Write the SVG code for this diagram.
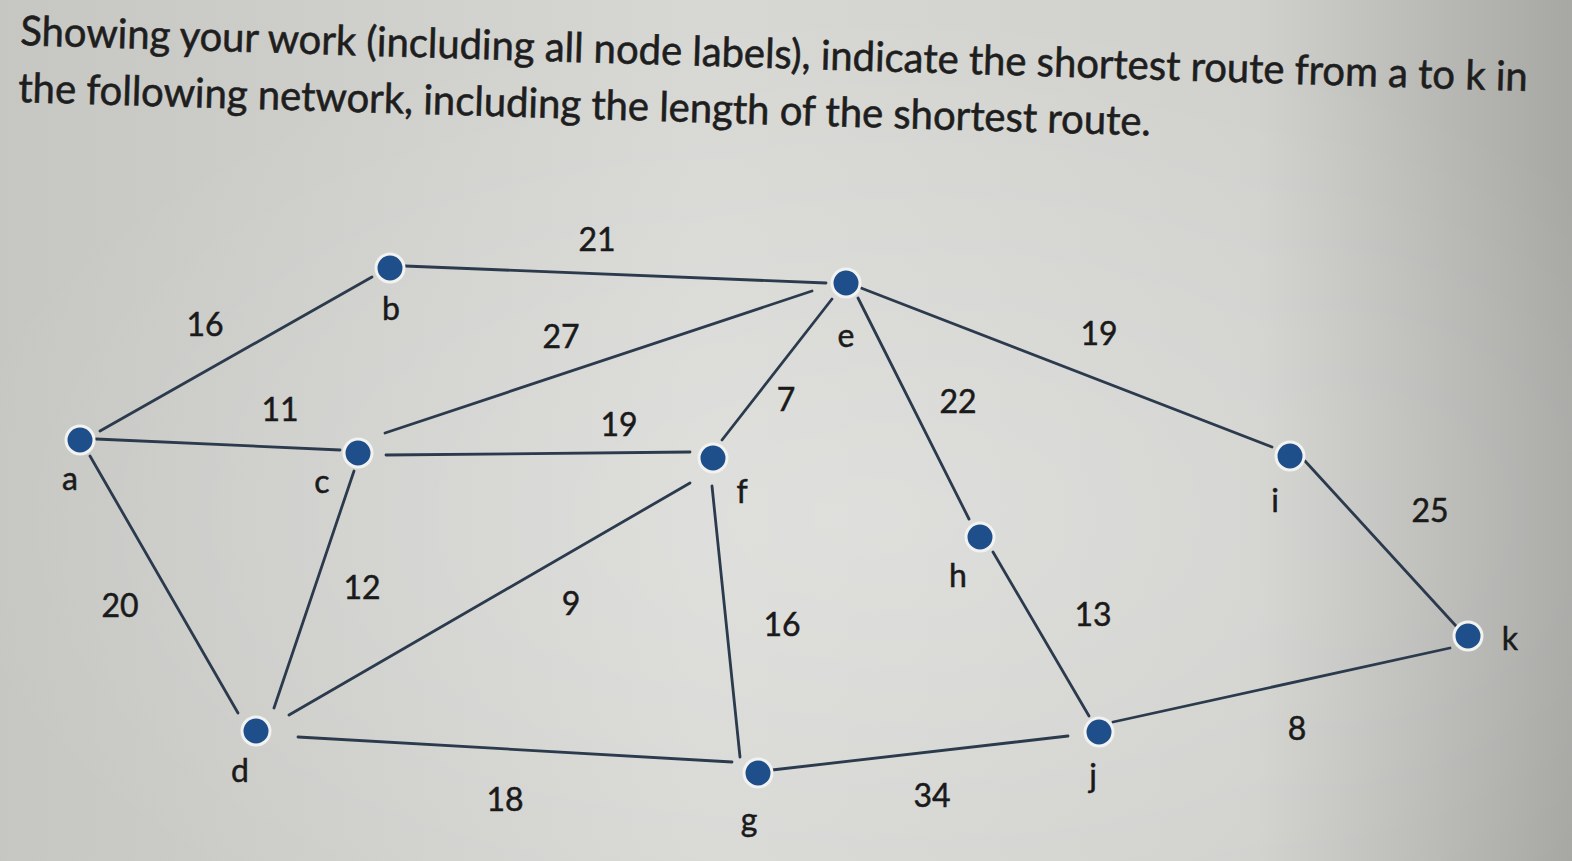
<svg xmlns="http://www.w3.org/2000/svg" width="1572" height="861" viewBox="0 0 1572 861">
<defs>
<linearGradient id="bg" x1="0" y1="0" x2="1" y2="0">
<stop offset="0" stop-color="#c6c6c3"/>
<stop offset="0.45" stop-color="#d7d7d4"/>
<stop offset="0.8" stop-color="#d0d0cd"/>
<stop offset="1" stop-color="#a7a7a4"/>
</linearGradient>
<radialGradient id="glow" cx="0.55" cy="0.6" r="0.6">
<stop offset="0" stop-color="#ffffff" stop-opacity="0.22"/>
<stop offset="1" stop-color="#ffffff" stop-opacity="0"/>
</radialGradient>
<style>
.title{font-family:Lato,"Liberation Sans",sans-serif;font-size:41px;fill:#1e1e1e;stroke:#1e1e1e;stroke-width:0.6}
.lbl{font-family:Lato,"Liberation Sans",sans-serif;font-size:32px;fill:#1a1a1a;stroke:#1a1a1a;stroke-width:0.5;text-anchor:middle}
.edge{stroke:#2b3a4c;stroke-width:2.8;fill:none;stroke-linecap:round}
.node{fill:#1f4f8a;stroke:#f2f2f0;stroke-width:3}
</style>
</defs>
<rect width="1572" height="861" fill="url(#bg)"/>
<rect width="1572" height="861" fill="url(#glow)"/>
<text class="title" x="20" y="45" textLength="1508" lengthAdjust="spacingAndGlyphs" transform="rotate(1.75 20 45)">Showing your work (including all node labels), indicate the shortest route from a to k in</text>
<text class="title" x="18" y="102" textLength="1133" lengthAdjust="spacingAndGlyphs" transform="rotate(1.7 18 102)">the following network, including the length of the shortest route.</text>
<g id="connectors">
<line class="edge" x1="100" y1="431" x2="372" y2="277"/>
<line class="edge" x1="96" y1="439" x2="340" y2="450"/>
<line class="edge" x1="90" y1="456" x2="238" y2="713"/>
<line class="edge" x1="405" y1="266" x2="826" y2="283"/>
<line class="edge" x1="385" y1="433" x2="812" y2="291"/>
<line class="edge" x1="386" y1="455" x2="690" y2="452"/>
<line class="edge" x1="354" y1="471" x2="274" y2="708"/>
<line class="edge" x1="289" y1="715" x2="690" y2="483"/>
<line class="edge" x1="298" y1="737" x2="732" y2="762"/>
<line class="edge" x1="722" y1="440" x2="832" y2="299"/>
<line class="edge" x1="712" y1="486" x2="740" y2="757"/>
<line class="edge" x1="858" y1="298" x2="969" y2="519"/>
<line class="edge" x1="861" y1="288" x2="1272" y2="447"/>
<line class="edge" x1="993" y1="552" x2="1089" y2="716"/>
<line class="edge" x1="1305" y1="461" x2="1456" y2="626"/>
<line class="edge" x1="772" y1="770" x2="1068" y2="736"/>
<line class="edge" x1="1113" y1="722" x2="1450" y2="648"/>
</g>
<g id="node-a"><circle class="node" cx="80" cy="440" r="14"/><text class="lbl" x="70" y="490">a</text></g>
<g id="node-b"><circle class="node" cx="390" cy="268" r="14"/><text class="lbl" x="391" y="320">b</text></g>
<g id="node-c"><circle class="node" cx="358" cy="453" r="14"/><text class="lbl" x="322" y="493">c</text></g>
<g id="node-d"><circle class="node" cx="256" cy="731" r="14"/><text class="lbl" x="240" y="782">d</text></g>
<g id="node-e"><circle class="node" cx="846" cy="283" r="14"/><text class="lbl" x="846" y="347">e</text></g>
<g id="node-f"><circle class="node" cx="713" cy="458" r="14"/><text class="lbl" x="742" y="503">f</text></g>
<g id="node-g"><circle class="node" cx="758" cy="773" r="14"/><text class="lbl" x="749" y="831">g</text></g>
<g id="node-h"><circle class="node" cx="980" cy="537" r="14"/><text class="lbl" x="958" y="587">h</text></g>
<g id="node-i"><circle class="node" cx="1290" cy="456" r="14"/><text class="lbl" x="1275" y="512">i</text></g>
<g id="node-j"><circle class="node" cx="1099" cy="732" r="14"/><text class="lbl" x="1093" y="787">j</text></g>
<g id="node-k"><circle class="node" cx="1468" cy="636" r="14"/><text class="lbl" x="1510" y="650">k</text></g>
<g id="weights">
<text class="lbl" x="205" y="336">16</text>
<text class="lbl" x="597" y="251">21</text>
<text class="lbl" x="561" y="348">27</text>
<text class="lbl" x="280" y="421">11</text>
<text class="lbl" x="619" y="436">19</text>
<text class="lbl" x="786" y="411">7</text>
<text class="lbl" x="958" y="413">22</text>
<text class="lbl" x="1099" y="345">19</text>
<text class="lbl" x="1430" y="522">25</text>
<text class="lbl" x="120" y="617">20</text>
<text class="lbl" x="362" y="599">12</text>
<text class="lbl" x="571" y="615">9</text>
<text class="lbl" x="782" y="636">16</text>
<text class="lbl" x="1093" y="626">13</text>
<text class="lbl" x="1297" y="740">8</text>
<text class="lbl" x="505" y="811">18</text>
<text class="lbl" x="932" y="807">34</text>
</g>
</svg>
